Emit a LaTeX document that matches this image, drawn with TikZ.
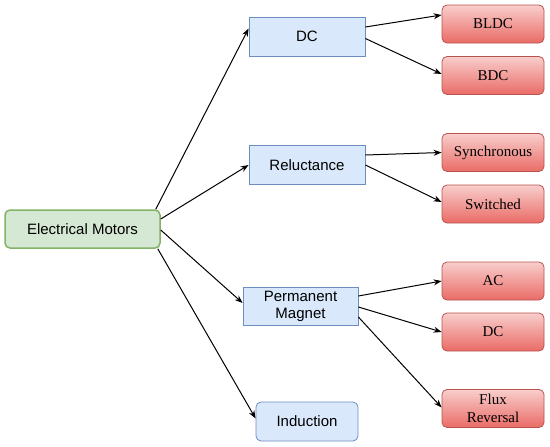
\documentclass[tikz,border=0pt]{standalone}
\usepackage{fontspec}
\setmainfont{Liberation Serif}
\setsansfont{Liberation Sans}
\usetikzlibrary{arrows.meta}

\definecolor{rootfill}{HTML}{D5E8D4}
\definecolor{rootline}{HTML}{82B366}
\definecolor{typefill}{HTML}{DAE8FC}
\definecolor{typeline}{HTML}{6C8EBF}
\definecolor{kindtop}{HTML}{F8CECC}
\definecolor{kindbot}{HTML}{EA6B66}
\definecolor{kindline}{HTML}{B85450}

\begin{document}
\begin{tikzpicture}[x=1pt, y=-1pt,
    root/.style={draw=rootline, fill=rootfill, line width=1.5pt, rounded corners=5pt,
        minimum width=155pt, minimum height=38pt, inner sep=0pt,
        font=\sffamily\fontsize{15}{17}\selectfont},
    motortype/.style={draw=typeline, fill=typefill, line width=0.8pt,
        minimum width=116pt, minimum height=39pt, inner sep=0pt, align=center,
        font=\sffamily\fontsize{15}{17}\selectfont},
    motorkind/.style={draw=kindline, top color=kindtop, bottom color=kindbot, line width=0.8pt,
        rounded corners=5pt, minimum width=102pt, minimum height=38pt, inner sep=0pt,
        align=center, font=\rmfamily\fontsize{15}{18}\selectfont},
    link/.style={-{Stealth[length=8pt, width=6pt]}, line width=1pt}]
    \useasboundingbox (0,0) rectangle (550,447);

    \node[root] (em) at (82.5, 229) {Electrical Motors};

    \node[motortype] (dc) at (307, 36.5) {DC};
    \node[motortype] (rel) at (307, 165) {Reluctance};
    \node[motortype, minimum width=115pt, minimum height=38pt] (pm) at (300.5, 306) {Permanent\\Magnet};
    \node[motortype, minimum width=102pt, rounded corners=5pt] (ind) at (307, 421.5) {Induction};

    \node[motorkind] (bldc) at (493, 24) {BLDC};
    \node[motorkind] (bdc) at (493, 75.5) {BDC};
    \node[motorkind] (sync) at (493, 152.5) {Synchronous};
    \node[motorkind] (sw) at (493, 204) {Switched};
    \node[motorkind] (ac) at (493, 281) {AC};
    \node[motorkind] (pmdc) at (493, 332) {DC};
    \node[motorkind] (flux) at (493, 408.5) {Flux\\Reversal};

    \draw[link] ([xshift=-5pt]em.north east) to ([yshift=8pt]dc.west);
    \draw[link] ([yshift=10pt]em.east) to (rel.west);
    \draw[link] ([yshift=-1pt]em.east) to ([yshift=3pt]pm.west);
    \draw[link] ([xshift=-3pt]em.south east) to ([yshift=3pt]ind.west);

    \draw[link] ([yshift=9.5pt]dc.east) to ([yshift=9pt]bldc.west);
    \draw[link] ([yshift=-2pt]dc.east) to ([yshift=1.5pt]bdc.west);
    \draw[link] ([yshift=10pt]rel.east) to (sync.west);
    \draw[link] (rel.east) to ([yshift=2pt]sw.west);
    \draw[link] ([yshift=10pt]pm.east) to (ac.west);
    \draw[link] ([yshift=-1pt]pm.east) to (pmdc.west);
    \draw[link] ([yshift=-11pt]pm.east) to ([yshift=1pt]flux.west);
\end{tikzpicture}
\end{document}
